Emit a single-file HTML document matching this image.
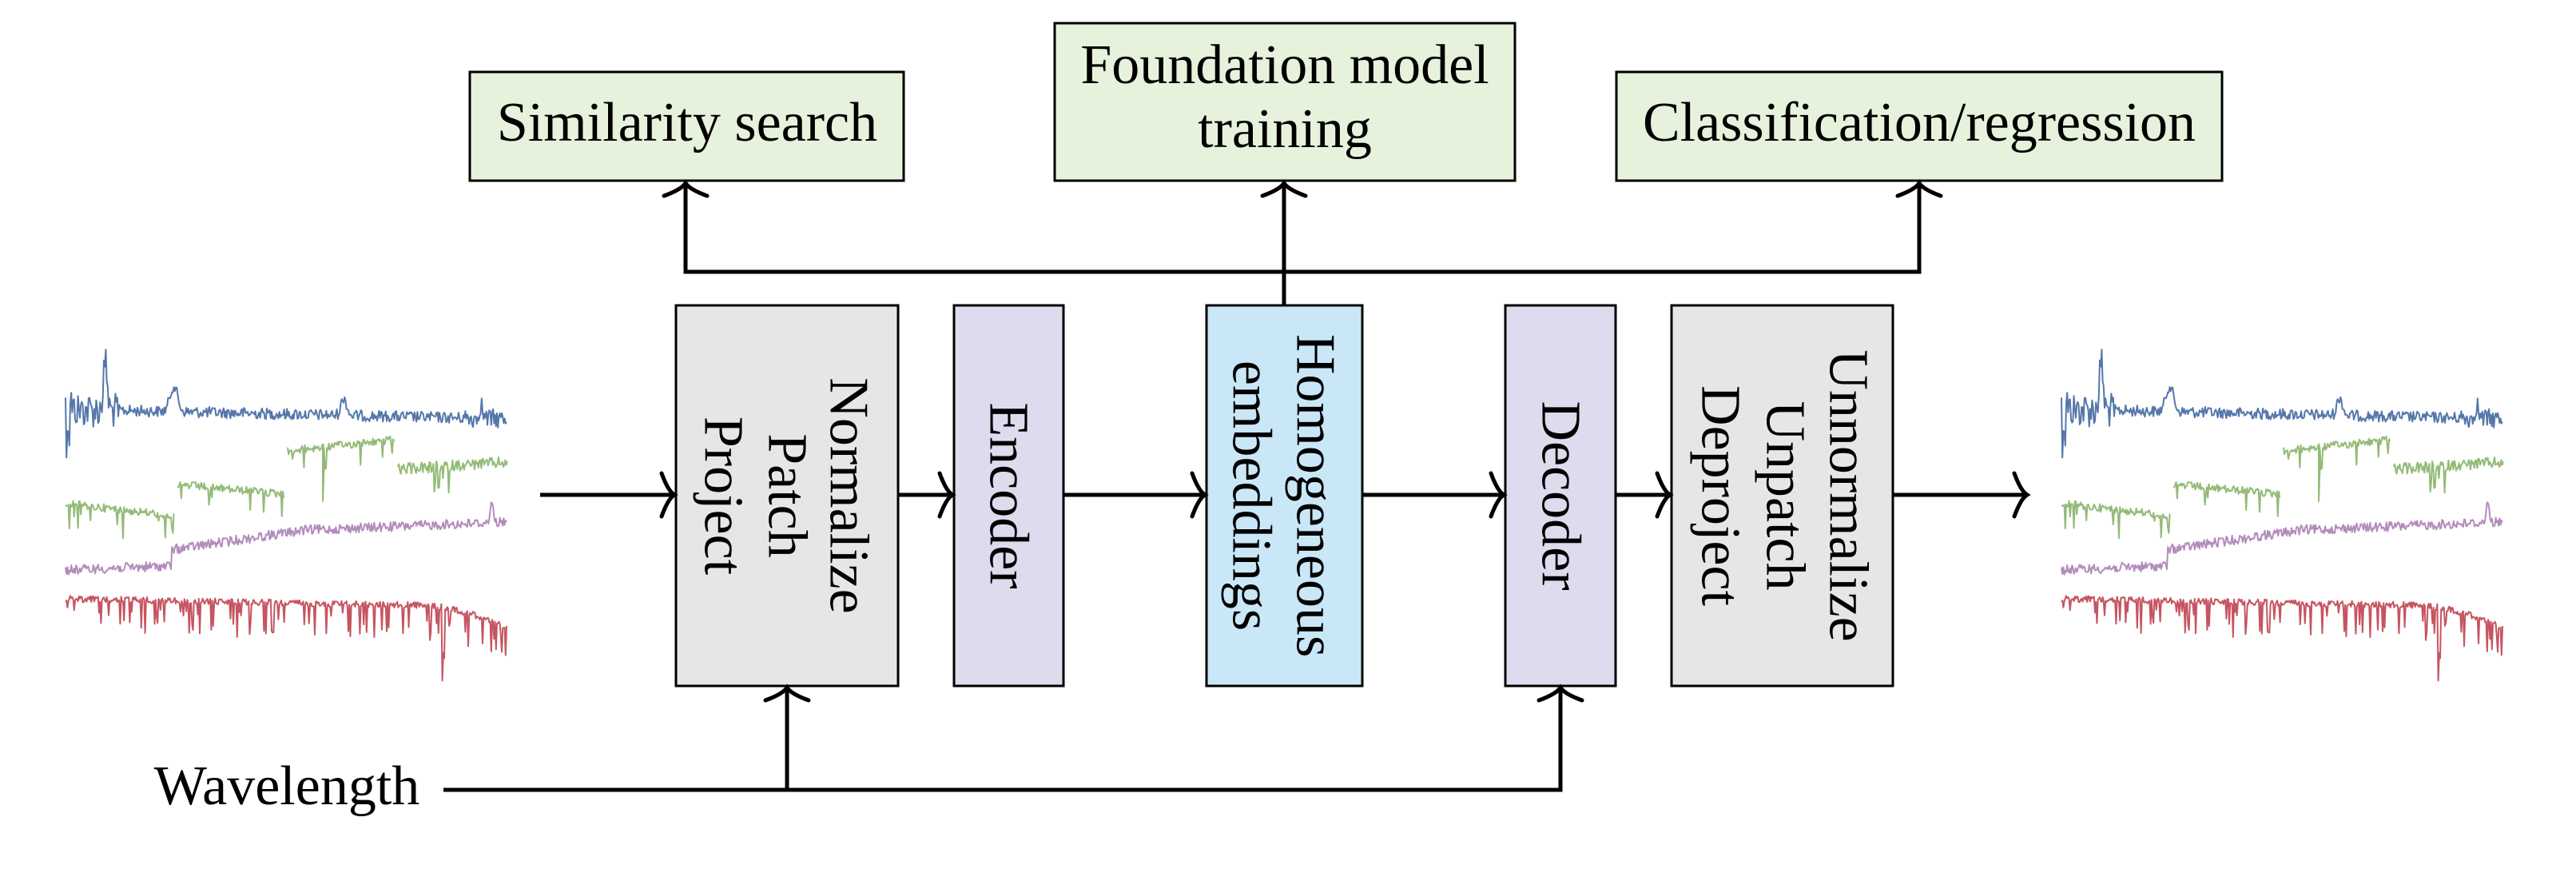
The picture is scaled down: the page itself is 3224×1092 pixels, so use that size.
<!DOCTYPE html>
<html><head><meta charset="utf-8"><style>
html,body{margin:0;padding:0;background:#fff;}
svg{display:block;}
text{font-family:"Liberation Serif",serif;fill:#000;}
</style></head><body>
<svg id="s" width="3224" height="1092" viewBox="0 0 3224 1092" xmlns="http://www.w3.org/2000/svg">
<defs>
<g id="spec"></g>
</defs>
<g stroke="#000" stroke-width="3">
<rect x="588" y="90" width="543" height="136" fill="#e7f2dd"/>
<rect x="1320" y="29" width="576" height="197" fill="#e7f2dd"/>
<rect x="2023" y="90" width="758" height="136" fill="#e7f2dd"/>
<rect x="846" y="382" width="278" height="476" fill="#e6e6e6"/>
<rect x="1194" y="382" width="137" height="476" fill="#dddcee"/>
<rect x="1510" y="382" width="195" height="476" fill="#c9e7f7"/>
<rect x="1884" y="382" width="138" height="476" fill="#dddcee"/>
<rect x="2092" y="382" width="277" height="476" fill="#e6e6e6"/>
</g>
<g stroke="#000" stroke-width="5" fill="none" stroke-linejoin="miter">
<path d="M858 232 V340 H2402 V232"/>
<path d="M1607 382 V232"/>
<path d="M676 619 H844"/>
<path d="M1124 619 H1192"/>
<path d="M1331 619 H1508"/>
<path d="M1705 619 H1882"/>
<path d="M2022 619 H2090"/>
<path d="M2369 619 H2535"/>
<path d="M555 988 H1953 V862"/>
<path d="M985 988 V862"/>
</g>
<g stroke="#000" stroke-width="5" fill="none" stroke-linecap="round" id="heads"></g>
<g font-size="70" text-anchor="middle">
<text x="860" y="176">Similarity search</text>
<text x="1608" y="104">Foundation model</text>
<text x="1608" y="184">training</text>
<text x="2402" y="176">Classification/regression</text>
<text x="359" y="1006">Wavelength</text>
<g dominant-baseline="central">
<text transform="translate(1062,620) rotate(90)">Normalize</text>
<text transform="translate(985,620) rotate(90)">Patch</text>
<text transform="translate(905,620) rotate(90)">Project</text>
<text transform="translate(1262,620) rotate(90)">Encoder</text>
<text transform="translate(1646,620) rotate(90)">Homogeneous</text>
<text transform="translate(1566,620) rotate(90)">embeddings</text>
<text transform="translate(1953,620) rotate(90)">Decoder</text>
<text transform="translate(2313,620) rotate(90)">Unnormalize</text>
<text transform="translate(2234,620) rotate(90)">Unpatch</text>
<text transform="translate(2153,620) rotate(90)">Deproject</text>
</g>
</g>
<use href="#spec"/>
<use href="#spec" transform="translate(2498,0)"/>
</svg>
<script>
(function(){
var NS="http://www.w3.org/2000/svg";
var heads=document.getElementById('heads');
function head(x,y,dir){
 var d;
 if(dir==='r') d="M"+(x-16)+" "+(y-27)+" Q"+(x-8)+" "+(y-5)+" "+x+" "+y+" Q"+(x-8)+" "+(y+5)+" "+(x-16)+" "+(y+27);
 else d="M"+(x-27)+" "+(y+16)+" Q"+(x-5)+" "+(y+8)+" "+x+" "+y+" Q"+(x+5)+" "+(y+8)+" "+(x+27)+" "+(y+16);
 var p=document.createElementNS(NS,'path');p.setAttribute('d',d);heads.appendChild(p);
}
head(858,229,'u');head(1607,229,'u');head(2402,229,'u');
head(985,860,'u');head(1953,860,'u');
head(844,619,'r');head(1192,619,'r');head(1508,619,'r');head(1882,619,'r');head(2090,619,'r');head(2537,619,'r');
var seed=12345;function rnd(){seed=(seed*1103515245+12345)%2147483648;return seed/2147483648;}
function g(t,c,w){return Math.exp(-Math.pow((t-c)/w,2));}
var spec=document.getElementById('spec');
function line(pts,col){var p=document.createElementNS(NS,'polyline');p.setAttribute('points',pts.join(' '));p.setAttribute('fill','none');p.setAttribute('stroke',col);p.setAttribute('stroke-width','2');p.setAttribute('stroke-linejoin','round');spec.appendChild(p);}
var x0=82,x1=635,W=x1-x0,pts,x,t,y;
pts=[];
for(x=x0;x<=x1;x+=1.2){t=(x-x0)/W;
 var n=(t<0.12?22:(t>0.9?12:7));
 y=512+12*t+(rnd()-0.5)*2*n-60*g(t,0.09,0.006)-32*g(t,0.245,0.012)-22*g(t,0.63,0.009)-18*g(t,0.94,0.005);
 if(t<0.015) y+= (rnd()-0.5)*110;
 pts.push(x.toFixed(1)+","+y.toFixed(1));}
line(pts,'#5577aa');
var col='#93bb78';
function seg(a,b,ya,yb,nz,drop){var p=[];for(x=a;x<=b;x+=1.2){t=(x-a)/(b-a);y=ya+(yb-ya)*t+(rnd()-0.5)*2*nz;if(rnd()<drop)y+=10+rnd()*22;p.push(x.toFixed(1)+","+y.toFixed(1));}line(p,col);}
seg(82,218,630,645,5,0.08);
seg(222,356,606,618,5,0.06);
seg(360,494,564,550,5,0.06);
line(["404,560","404,627","406,570"],col);
seg(498,635,587,578,7,0.05);
pts=[];
for(x=x0;x<=x1;x+=1.2){t=(x-x0)/W;
 y=713-22*t-(t>0.24?20:0)-18*Math.min(1,Math.max(0,(t-0.24)/0.3))+(rnd()-0.5)*12-22*g(t,0.965,0.006);
 pts.push(x.toFixed(1)+","+y.toFixed(1));}
line(pts,'#b38cbc');
pts=[];
for(x=x0;x<=x1;x+=1.2){t=(x-x0)/W;
 y=749+10*t+28*Math.pow(Math.max(0,t-0.8)/0.2,2)+(rnd()-0.5)*8;
 if(rnd()<0.15) y+=10+rnd()*32;
 if(Math.abs(t-0.855)<0.003) y+=60;
 pts.push(x.toFixed(1)+","+y.toFixed(1));}
line(pts,'#c65561');
})();
</script>
</body></html>
